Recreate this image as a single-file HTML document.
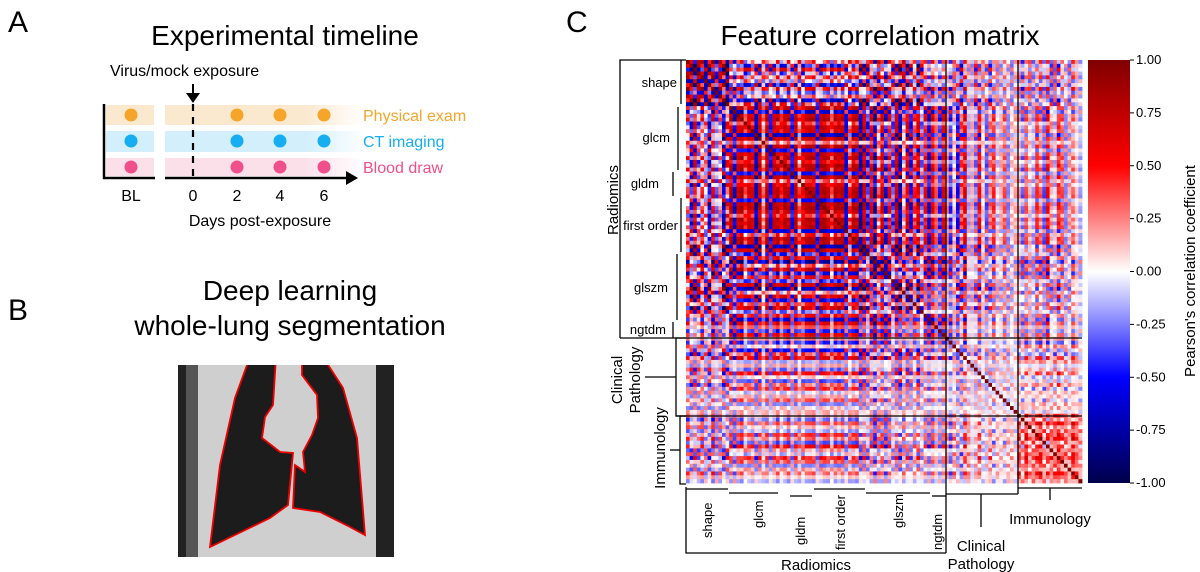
<!DOCTYPE html>
<html><head><meta charset="utf-8"><style>
html,body{margin:0;padding:0;background:#fff;}
svg{display:block;font-family:"Liberation Sans",sans-serif;}
</style></head><body>
<svg id="fig" width="1200" height="572" viewBox="0 0 1200 572">
<defs>
<linearGradient id="gO" x1="0" x2="1"><stop offset="0.7" stop-color="#fbe9cf"/><stop offset="1" stop-color="#fbe9cf" stop-opacity="0"/></linearGradient>
<linearGradient id="gB" x1="0" x2="1"><stop offset="0.7" stop-color="#d2effb"/><stop offset="1" stop-color="#d2effb" stop-opacity="0"/></linearGradient>
<linearGradient id="gP" x1="0" x2="1"><stop offset="0.7" stop-color="#fbe0ea"/><stop offset="1" stop-color="#fbe0ea" stop-opacity="0"/></linearGradient>
<linearGradient id="cbar" x1="0" y1="1" x2="0" y2="0">
<stop offset="0" stop-color="#00004c"/><stop offset="0.25" stop-color="#0000ff"/><stop offset="0.5" stop-color="#ffffff"/><stop offset="0.75" stop-color="#ff0000"/><stop offset="1" stop-color="#800000"/></linearGradient>
</defs>

<g>
<text x="8" y="32" font-size="30">A</text>
<text x="285" y="45" font-size="28" text-anchor="middle">Experimental timeline</text>
<text x="110" y="76" font-size="16">Virus/mock exposure</text>
<line x1="193" y1="84" x2="193" y2="96" stroke="#000" stroke-width="2"/>
<polygon points="186,93 200,93 193,103" fill="#000"/>
<rect x="106" y="105" width="48" height="20" fill="#fbe9cf"/>
<rect x="165" y="105" width="200" height="20" fill="url(#gO)"/>
<rect x="106" y="131" width="48" height="21" fill="#d2effb"/>
<rect x="165" y="131" width="200" height="21" fill="url(#gB)"/>
<rect x="106" y="158" width="48" height="18" fill="#fbe0ea"/>
<rect x="165" y="158" width="200" height="18" fill="url(#gP)"/>
<line x1="193" y1="104" x2="193" y2="178" stroke="#000" stroke-width="2.2" stroke-dasharray="7,6"/>
<line x1="104" y1="104" x2="104" y2="179" stroke="#000" stroke-width="2.5"/>
<line x1="103" y1="178" x2="155" y2="178" stroke="#000" stroke-width="2.5"/>
<line x1="165" y1="178" x2="348" y2="178" stroke="#000" stroke-width="2.5"/>
<polygon points="346,171 358,178 346,185" fill="#000"/>
<g id="dots"></g>
<g font-size="16" text-anchor="middle">
<text x="131" y="201">BL</text><text x="193" y="201">0</text><text x="237" y="201">2</text><text x="280" y="201">4</text><text x="324" y="201">6</text>
</g>
<text x="260" y="226" font-size="16" text-anchor="middle">Days post-exposure</text>
<text x="363" y="121" font-size="16" fill="#f4a52a">Physical exam</text>
<text x="363" y="147" font-size="16" fill="#16aef0">CT imaging</text>
<text x="363" y="173" font-size="16" fill="#ef4f8a">Blood draw</text>
</g>

<g>
<text x="8" y="320" font-size="30">B</text>
<text x="290" y="300" font-size="28" text-anchor="middle">Deep learning</text>
<text x="290" y="335" font-size="28" text-anchor="middle">whole-lung segmentation</text>
<g>
<rect x="178" y="365" width="216" height="192" fill="#cfcfcf"/>
<rect x="178" y="365" width="20" height="192" fill="#222"/>
<rect x="376" y="365" width="18" height="192" fill="#222"/>
<rect x="186" y="365" width="12" height="192" fill="#555"/>
<polygon points="250,357 276,357 273,405 265,417 262,438 280,452 293,453 288,505 270,518 210,547 220,465 235,398" fill="#1c1c1c" stroke="#e00" stroke-width="1.8"/>
<polygon points="302,357 323,357 343,388 357,438 365,535 350,527 320,512 293,508 295,465 305,472 303,452 312,435 318,418 317,395 302,375" fill="#1c1c1c" stroke="#e00" stroke-width="1.8"/>
<rect x="178" y="355" width="216" height="10" fill="#fff"/>
</g>
</g>

<g>
<text x="566" y="32" font-size="30">C</text>
<text x="880" y="45" font-size="28" text-anchor="middle">Feature correlation matrix</text>
<g id="cells"></g>
<g stroke="#000" stroke-width="1.3" fill="none">
<line x1="946" y1="60" x2="946" y2="553"/>
<line x1="1018" y1="60" x2="1018" y2="494"/>
<line x1="620" y1="338" x2="1082" y2="338"/>
<line x1="676" y1="416" x2="1082" y2="416"/>
<polyline points="686,60 620,60 620,338"/>
<polyline points="686,338 676,338 676,416 686,416"/>
<polyline points="686,416 680,416 680,484 686,484"/>
<line x1="645" y1="377" x2="676" y2="377"/>
<line x1="670" y1="450" x2="680" y2="450"/>
<polyline points="686,487 686,553 946,553"/>
<polyline points="946,494 1018,494"/>
<line x1="981" y1="494" x2="981" y2="527"/>
<polyline points="1018,488 1082,488"/>
<line x1="1050" y1="488" x2="1050" y2="500"/>
<line x1="681" y1="60" x2="681" y2="104"/><line x1="678" y1="107" x2="678" y2="170"/>
<line x1="673" y1="172" x2="673" y2="196"/><line x1="681" y1="198" x2="681" y2="252"/>
<line x1="677" y1="254" x2="677" y2="320"/><line x1="673" y1="322" x2="673" y2="338"/>
<line x1="686" y1="489" x2="728" y2="489"/><line x1="729" y1="493" x2="778" y2="493"/>
<line x1="790" y1="496" x2="812" y2="496"/><line x1="814" y1="489" x2="865" y2="489"/>
<line x1="866" y1="493" x2="930" y2="493"/><line x1="932" y1="496" x2="946" y2="496"/>
</g>
<text transform="translate(618,200) rotate(-90)" font-size="15" text-anchor="middle">Radiomics</text>
<g font-size="13" text-anchor="end">
<text x="677" y="87">shape</text><text x="670" y="142">glcm</text><text x="659" y="188">gldm</text>
<text x="678" y="230">first order</text><text x="668" y="292">glszm</text><text x="666" y="334">ngtdm</text>
</g>
<text transform="translate(622,380) rotate(-90)" font-size="15" text-anchor="middle">Clinical</text>
<text transform="translate(640,380) rotate(-90)" font-size="15" text-anchor="middle">Pathology</text>
<text transform="translate(665,448) rotate(-90)" font-size="15" text-anchor="middle">Immunology</text>
<g font-size="13">
<text transform="translate(712,538) rotate(-90)">shape</text>
<text transform="translate(763,528) rotate(-90)">glcm</text>
<text transform="translate(805,545) rotate(-90)">gldm</text>
<text transform="translate(845,550) rotate(-90)">first order</text>
<text transform="translate(903,528) rotate(-90)">glszm</text>
<text transform="translate(942,550) rotate(-90)">ngtdm</text>
</g>
<text x="816" y="570" font-size="15" text-anchor="middle">Radiomics</text>
<text x="981" y="551" font-size="15" text-anchor="middle">Clinical</text>
<text x="981" y="569" font-size="15" text-anchor="middle">Pathology</text>
<text x="1050" y="524" font-size="15" text-anchor="middle">Immunology</text>
<rect x="1088" y="60" width="42" height="423" fill="url(#cbar)"/>
<g id="cticks" font-size="13"></g>
<text transform="translate(1195,271) rotate(-90)" font-size="15" text-anchor="middle">Pearson's correlation coefficient</text>
</g>
</svg>
<script>
const NS='http://www.w3.org/2000/svg';
const timeDays=['BL','0','2','4','6'];
const examRows=['physical','ct','blood'];
const sampled=[[1,0,1,1,1],[1,0,1,1,1],[1,0,1,1,1]];
const dayX={'BL':131,'0':193,'2':237,'4':280,'6':324};
const rowColor=['#f4a52a','#16aef0','#ef4f8a'];const rowY=[115,141,167];
const dg=document.getElementById('dots');
examRows.forEach((r,i)=>timeDays.forEach((d,j)=>{if(!sampled[i][j])return;
const c=document.createElementNS(NS,'circle');c.setAttribute('cx',dayX[d]);c.setAttribute('cy',rowY[i]);c.setAttribute('r',6.5);c.setAttribute('fill',rowColor[i]);


dg.appendChild(c);}));

// Feature loadings (72 radiomics, 20 clinical, 18 immunology)
const loadA=[0.3,-0.5,0.6,-0.2,0.4,0.1,-0.6,0.5,-0.3,0.2,-0.7,0.4,
0.85,-0.7,0.8,0.9,0.5,0.8,0.75,-0.8,0.85,0.3,0.9,-0.6,0.8,0.85,0.6,0.9,
0.85,-0.6,0.9,0.4,0.7,0.85,
0.9,0.85,-0.6,0.9,0.95,0.8,0.5,0.9,0.85,0.9,-0.7,0.5,0.9,0.85,
-0.8,0.8,-0.5,0.7,-0.85,0.3,0.8,-0.6,0.6,-0.4,0.8,-0.8,0.2,0.7,-0.6,0.5,0.75,-0.3,
0.6,-0.7,0.7,0.4,-0.5,0.7,
0.3,-0.5,0.1,-0.6,0.4,0.7,-0.2,0.2,-0.3,0.6,0.1,-0.4,0.3,0.5,-0.1,0.2,0.4,-0.3,0.1,0.2,
0.2,-0.3,0.4,0.1,-0.2,0.5,0.3,-0.4,0.6,0.2,-0.1,0.5,0.4,-0.3,0.2,0.3,0.1,-0.2];
const loadB=[0.9,0.8,-0.7,0.9,0.8,-0.8,0.7,0.9,-0.6,0.8,0.7,-0.9,
0.2,-0.4,0.1,0.3,-0.5,-0.2,0.1,0.3,-0.3,0.4,0,0.3,-0.2,0.3,-0.4,-0.2,
0.3,0.2,-0.2,0.5,-0.4,0.1,
0.1,0.3,0.2,-0.3,0,0.2,-0.5,0.1,-0.3,0.1,0.3,0.5,0,0.3,
0.5,-0.4,0.6,0.3,-0.5,0.7,0.2,-0.6,0.4,0.5,-0.3,0.6,0.7,-0.5,0.4,0.3,-0.6,0.5,
0.3,-0.2,0.4,0.1,-0.3,0.2,
0.2,-0.3,0.4,0.1,-0.5,0.3,0.2,-0.2,0.4,-0.1,0.3,0.2,-0.4,0.1,0.3,-0.2,0.2,0.1,-0.3,0.2,
0.3,-0.4,0.2,0.4,-0.3,0,0.4,-0.2,0.3,-0.4,0.4,-0.3,0.2,0.1,-0.3,0.4,0.2,-0.2];
const loadC=[0,0,0,0,0,0,0,0,0,0,0,0,
0,0,0,0,0,0,0,0,0,0,0,0,0,0,0,0,
0,0,0,0,0,0,
0,0,0,0,0,0,0,0,0,0,0,0,0,0,
0,0,0,0,0,0,0,0,0,0,0,0,0,0,0,0,0,0,
0,0,0,0,0,0,
0.2,-0.2,0.3,0.1,-0.3,0.2,0.4,-0.1,0.2,0.3,-0.2,0.1,0.3,-0.3,0.2,0.1,-0.2,0.3,0.2,-0.1,
0.6,0.4,0.7,0.3,0.6,0.5,0.7,0.5,0.3,0.5,0.6,0.7,0.4,0.6,0.3,0.7,0.5,0.4];
const cbTicks=['1.00','0.75','0.50','0.25','0.00','-0.25','-0.50','-0.75','-1.00'];

const N=loadA.length;const X0=686,X1=1082,Y0=60,Y1=483;
const sx=i=>X0+(X1-X0)*i/N, sy=i=>Y0+(Y1-Y0)*i/N;
const cv=v=>(Y1-(v+1)/2*(Y1-Y0));
function col(v){v=Math.max(-1,Math.min(1,v));let r,g,b;
if(v<-0.5){const t=(v+1)/0.5;r=0;g=0;b=76+179*t;}
else if(v<0){const t=(v+0.5)/0.5;r=255*t;g=255*t;b=255;}
else if(v<0.5){const t=v/0.5;r=255;g=255*(1-t);b=255*(1-t);}
else{const t=(v-0.5)/0.5;r=255-127*t;g=0;b=0;}
return `rgb(${r|0},${g|0},${b|0})`;}
const cg=document.getElementById('cells');
for(let i=0;i<N;i++)for(let j=0;j<N;j++){
const v=i===j?1:loadA[i]*loadA[j]+loadB[i]*loadB[j]+loadC[i]*loadC[j];
const r=document.createElementNS(NS,'rect');
r.setAttribute('x',sx(j).toFixed(2));r.setAttribute('y',sy(i).toFixed(2));
r.setAttribute('width',((X1-X0)/N+0.4).toFixed(2));r.setAttribute('height',((Y1-Y0)/N+0.4).toFixed(2));
r.setAttribute('fill',col(v));


cg.appendChild(r);}
const ct=document.getElementById('cticks');
cbTicks.forEach(t=>{const y=cv(parseFloat(t));
const l=document.createElementNS(NS,'line');l.setAttribute('x1',1130);l.setAttribute('x2',1134);l.setAttribute('y1',y);l.setAttribute('y2',y);l.setAttribute('stroke','#000');


ct.appendChild(l);
const tx=document.createElementNS(NS,'text');tx.setAttribute('x',1136);tx.setAttribute('y',y+4);tx.textContent=t;


ct.appendChild(tx);});
</script>
</body></html>
